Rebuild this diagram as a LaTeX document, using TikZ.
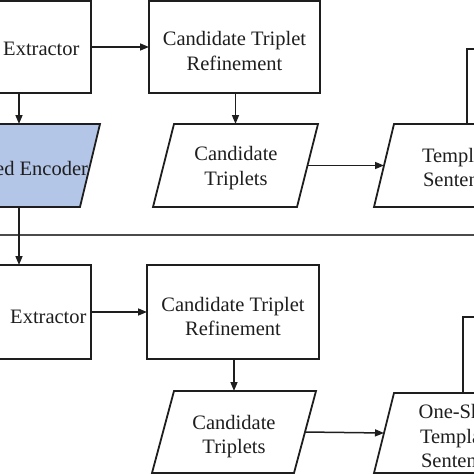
\documentclass[tikz,border=0pt]{standalone}
\usepackage{fontspec}
\setmainfont{Liberation Serif}
\usetikzlibrary{arrows.meta}
\definecolor{encblue}{HTML}{B4C6E7}
\definecolor{ink}{HTML}{1E1E1E}
\newcommand\fs{\fontsize{20.5}{24.5}\selectfont}
\newcommand\drawpara[3][]{\draw[shapeline,#1] ([xshift=#3]#2.north west) -- ([xshift=#3]#2.north east) -- ([xshift=-#3]#2.south east) -- ([xshift=-#3]#2.south west) -- cycle;}
\begin{document}
\begin{tikzpicture}[x=1pt,y=-1pt,
  shapeline/.style={draw=ink, line width=1.8pt, line join=miter},
  box/.style={shapeline, rectangle, inner sep=0pt, outer sep=0pt},
  body/.style={rectangle, inner sep=0pt, outer sep=0pt},
  txt/.style={inner sep=0pt, outer sep=0pt, font=\fs, align=center, text=ink},
  conn/.style={draw=ink, line width=1.5pt},
  arr/.style={conn, -{Triangle[length=9pt,width=7pt]}}]
\useasboundingbox (0,0) rectangle (474,474);
\clip (0,0) rectangle (474,474);

% upper section
\node[box, minimum width=144pt, minimum height=92pt] (ext1) at (19,47) {};
\node[txt, anchor=east] (ext1t) at (79.5,49) {Extractor};
\node[box, minimum width=171pt, minimum height=92pt] (ref1) at (234.5,47) {};
\node[txt] (ref1t) at (234.5,51) {Candidate Triplet\\Refinement};
\node[body, minimum width=142pt, minimum height=83pt] (enc) at (19,165.5) {};
\drawpara[fill=encblue]{enc}{10pt}
\node[txt, anchor=east] (enct) at (88,168) {ed Encoder};
\node[body, minimum width=144pt, minimum height=83pt] (ct1) at (235.5,165.5) {};
\drawpara{ct1}{10.5pt}
\node[txt] (ct1t) at (236,168) {Candidate\\Triplets};
\node[body, minimum width=152pt, minimum height=83pt] (tpl1) at (460,165.5) {};
\drawpara{tpl1}{10pt}
\node[txt] (tpl1t) at (460,167.5) {Template\\Sentence};

\draw[arr] (ext1.east) -- (ref1.west);
\draw[arr] (ext1.south) -- (ext1.south |- enc.north);
\draw[arr] (ref1.south -| ct1.north) -- (ct1.north);
\draw[arr] (ct1.east) -- (tpl1.west);
\coordinate (r1) at (480,49);
\draw[conn] ([xshift=7pt]tpl1.north) |- (r1);

% divider
\coordinate (dl) at (-5,235);
\coordinate (dr) at (480,235);
\draw[draw=ink!80, line width=1.3pt] (dl) -- (dr);

% lower section
\node[box, minimum width=144pt, minimum height=94pt] (ext2) at (19,312) {};
\node[txt, anchor=east] (ext2t) at (86.5,317) {Extractor};
\node[box, minimum width=172pt, minimum height=94pt] (ref2) at (233,312) {};
\node[txt] (ref2t) at (233,316.5) {Candidate Triplet\\Refinement};
\node[body, minimum width=142pt, minimum height=82pt] (ct2) at (234,432) {};
\drawpara{ct2}{11pt}
\node[txt] (ct2t) at (234,436.5) {Candidate\\Triplets};
\node[body, minimum width=152pt, minimum height=80pt] (tpl2) at (460,433) {};
\drawpara{tpl2}{10pt}
\node[txt] (tpl2t) at (458,436) {One-Shot\\Template\\Sentence};

\draw[arr] (enc.south) -- (enc.south |- ext2.north);
\draw[arr] (ext2.east) -- (ref2.west);
\draw[arr] (ref2.south -| ct2.north) -- (ct2.north);
\draw[arr] (ct2.east) -- (tpl2.west);
\coordinate (r2) at (480,317);
\draw[conn] ([xshift=3pt]tpl2.north) |- (r2);
\end{tikzpicture}
\end{document}
